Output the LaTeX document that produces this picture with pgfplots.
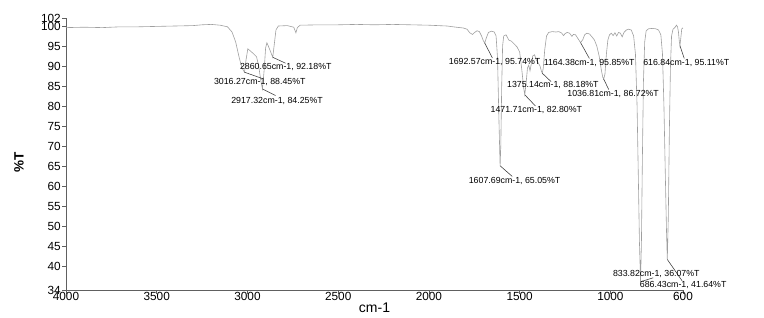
\documentclass[border=0pt]{standalone}
\usepackage{pgfplots}
\pgfplotsset{compat=1.18}
\usepackage{fontspec}
\setmainfont{Liberation Sans}
\pgfplotstableread{
x y
4000 99.6
3900 99.7
3800 99.6
3700 99.8
3600 99.8
3500 99.9
3400 100.0
3300 100.1
3250 100.3
3200 100.4
3150 100.2
3110 99.8
3085 98.5
3065 96
3045 92
3030 89.5
3016.27 88.45
3008 91.5
2998 94.3
2985 93.8
2965 93.0
2950 92.3
2938 90
2927 86.5
2917.32 84.25
2908 89
2900 94.5
2893 95.8
2885 95
2872 93.5
2860.65 92.18
2852 95.5
2843 99
2830 100
2780 100.1
2745 99.7
2733 98.3
2725 99.6
2710 100.2
2600 100.3
2500 100.3
2400 100.4
2300 100.3
2200 100.4
2100 100.3
2000 100.2
1900 100.0
1850 99.7
1810 99.5
1790 99.2
1775 98.3
1760 97.9
1748 98.4
1735 98.8
1722 98.6
1710 97.5
1700 96.3
1692.57 95.74
1684 97
1672 98.4
1655 98.7
1640 98.5
1630 97.5
1622 92
1615 78
1609 67
1607.69 65.05
1604 70
1599 85
1594 95
1588 97.5
1575 97.8
1560 96.5
1545 96.2
1530 95.5
1515 94.8
1500 93.5
1488 89
1478 84.5
1471.71 82.80
1464 86
1457 89.5
1450 90.2
1443 88.8
1436 90.5
1428 92.5
1418 92.8
1408 91.5
1398 90.8
1388 90
1380 88.7
1375.14 88.18
1370 89.5
1362 94
1352 97.5
1340 98.4
1320 98.6
1300 98.5
1285 98.6
1270 98.3
1258 97.6
1250 98.1
1238 98.4
1225 98.2
1212 97.4
1204 97.9
1192 97.8
1178 96.8
1164.38 95.85
1152 96.6
1142 97.8
1130 98.2
1115 98
1100 97.2
1088 96.5
1075 95
1062 92.5
1050 89
1042 87.2
1036.81 86.72
1030 88
1022 93
1014 96.5
1005 97.8
995 98.2
985 97.6
975 98.3
965 97.5
955 98.4
945 98.2
935 97.3
925 98.4
912 99
900 99.2
885 99.0
872 97.5
862 93
853 80
846 62
840 46
833.82 36.07
829 46
824 66
818 86
811 96
803 98.8
790 99.3
770 99.4
750 99.3
735 99.0
722 97.8
713 93
705 80
697 62
691 49
686.43 41.64
681 52
675 74
669 90
663 97.5
655 99.2
645 99.6
636 100.2
630 99.8
625 98.5
620 96
616.84 95.11
612 97
607 99.2
603 99.5
600 99.4
}\spectrum
\begin{document}
\begin{tikzpicture}
\useasboundingbox (-66pt,-27pt) rectangle (698pt,290pt);
\begin{axis}[
  at={(0pt,0pt)}, anchor=south west,
  scale only axis, width=617pt, height=272pt,
  xmin=600, xmax=4000, x dir=reverse, ymin=34, ymax=102,
  clip=false,
  axis x line*=bottom, axis y line*=left,
  axis line style={gray!75!black, line width=0.8pt, -},
  xtick={4000,3500,3000,2500,2000,1500,1000,600},
  ytick={34,40,45,50,55,60,65,70,75,80,85,90,95,100,102},
  tick align=outside, major tick length=3.5pt,
  tick style={gray!75!black, line width=0.6pt},
  /pgf/number format/1000 sep={},
  /pgf/number format/assume math mode=true,
  tick label style={font=\fontsize{11.8}{12}\selectfont},
  xticklabel style={inner sep=1pt, yshift=2pt},
  yticklabel style={inner sep=1.5pt},
]
\addplot[gray!75, line width=0.6pt] table[x=x,y=y] {\spectrum};

\node[font=\fontsize{14}{15}\selectfont] at (axis description cs:0.5,0) [yshift=-18pt] {cm-1};
\node[font=\fontsize{13.5}{14}\selectfont\bfseries, rotate=90] at (axis description cs:-0.076,0.47) {\%T};

\tikzset{lab/.style={font=\fontsize{8.8}{9}\selectfont, inner sep=0pt}, lead/.style={gray!45!black, line width=0.55pt}}
\draw[lead] (axis cs:2860.65,92.18) -- (axis cs:2790,90.7);
\draw[lead] (axis cs:3016.27,88.45) -- (axis cs:2920,86.9);
\draw[lead] (axis cs:2917.32,84.25) -- (axis cs:2845,82.6);
\draw[lead] (axis cs:1692.57,95.74) -- (axis cs:1650,92.0);
\draw[lead] (axis cs:1164.38,95.85) -- (axis cs:1116,91.9);
\draw[lead] (axis cs:616.84,95.11) -- (axis cs:593,91.9);
\draw[lead] (axis cs:1375.14,88.18) -- (axis cs:1327,86.1);
\draw[lead] (axis cs:1036.81,86.72) -- (axis cs:1009,84.1);
\draw[lead] (axis cs:1471.71,82.80) -- (axis cs:1413,80.0);
\draw[lead] (axis cs:1607.69,65.05) -- (axis cs:1541,62.4);
\draw[lead] (axis cs:833.82,36.07) -- (axis cs:764,37.05);
\draw[lead] (axis cs:686.43,41.64) -- (axis cs:605,36.3);

\node[lab] at (axis cs:2789,89.8) {2860.65cm-1, 92.18\%T};
\node[lab] at (axis cs:2932,85.9) {3016.27cm-1, 88.45\%T};
\node[lab] at (axis cs:2837,81.3) {2917.32cm-1, 84.25\%T};
\node[lab] at (axis cs:1638,90.9) {1692.57cm-1, 95.74\%T};
\node[lab] at (axis cs:1117,90.7) {1164.38cm-1, 95.85\%T};
\node[lab] at (axis cs:582,90.75) {616.84cm-1, 95.11\%T};
\node[lab] at (axis cs:1317,85.3) {1375.14cm-1, 88.18\%T};
\node[lab] at (axis cs:985,82.9) {1036.81cm-1, 86.72\%T};
\node[lab] at (axis cs:1408,79.05) {1471.71cm-1, 82.80\%T};
\node[lab] at (axis cs:1528,61.35) {1607.69cm-1, 65.05\%T};
\node[lab] at (axis cs:747,38.05) {833.82cm-1, 36.07\%T};
\node[lab] at (axis cs:599,35.25) {686.43cm-1, 41.64\%T};
\end{axis}
\end{tikzpicture}
\end{document}
